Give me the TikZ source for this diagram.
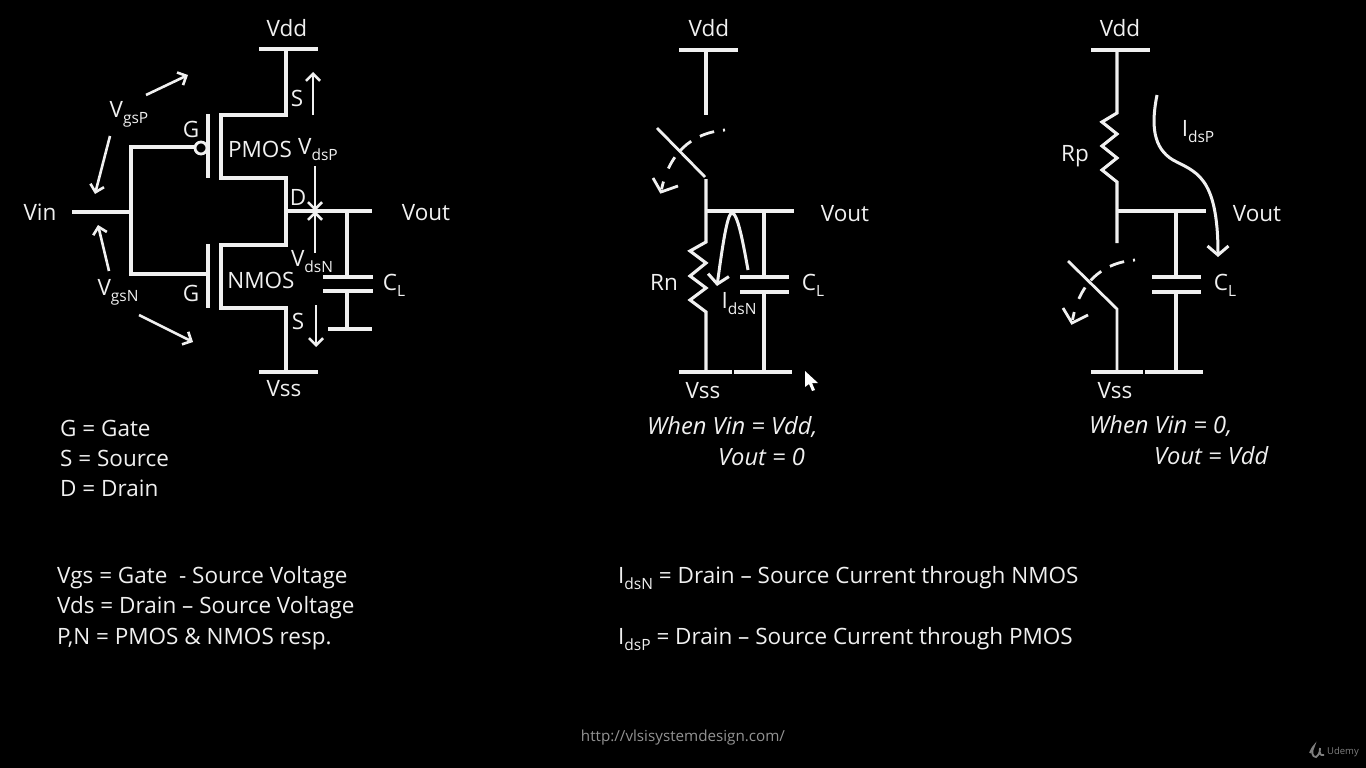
\documentclass[tikz,border=0pt]{standalone}
\usepackage{fontspec}
\setmainfont{Open Sans}
\usetikzlibrary{arrows.meta,positioning}
\definecolor{chalk}{gray}{0.94}
\newcommand{\sbs}[1]{\raisebox{-0.5ex}{\fontsize{15.5}{16}\selectfont #1}}
\begin{document}
\begin{tikzpicture}[x=1pt,y=-1pt]
	\tikzstyle{wire} = [draw=chalk, line width=3.1pt, line join=miter]
	\tikzstyle{thin wire} = [draw=chalk, line width=2.6pt, -{Straight Barb[length=7pt,width=14pt,line width=2.6pt]}]
	\tikzstyle{swing} = [draw=chalk, line width=2.8pt, dash pattern=on 2pt off 9pt on 15pt off 10pt on 14pt off 9pt on 13pt off 14pt on 8pt]
	\tikzstyle{flow} = [draw=chalk, line width=3pt, -{Straight Barb[length=9pt,width=21pt,line width=3pt]}]
	\tikzstyle{lbl} = [text=chalk, inner sep=0pt, yshift=-0.7pt, font=\fontsize{22.5}{26}\selectfont]
	\tikzstyle{note} = [text=chalk, inner sep=0pt, yshift=-1pt, anchor=base west, font=\fontsize{22.5}{26}\selectfont]
	\tikzstyle{when} = [text=chalk, inner sep=0pt, yshift=-1pt, anchor=base west, font=\itshape\fontsize{23.7}{26}\selectfont]
	\fill[black] (0,0) rectangle (1366,768);
	\useasboundingbox (0,0) rectangle (1366,768);
	
	% inverter
	\coordinate (A1l) at (259,49); \coordinate (A1r) at (318,49); \coordinate (A1m) at (286,49);
	\coordinate (Ps) at (286,115); \coordinate (Psb) at (221,115);
	\coordinate (Pdb) at (221,178); \coordinate (Pd) at (286,178);
	\coordinate (Nd) at (286,245); \coordinate (Ndb) at (221,245);
	\coordinate (Nsb) at (221,308); \coordinate (Ns) at (286,308);
	\coordinate (A2l) at (259,372); \coordinate (A2r) at (318,372); \coordinate (A2m) at (286,372);
	\coordinate (Ptop) at (208,114); \coordinate (Pbot) at (208,178);
	\coordinate (Ntop) at (208,244); \coordinate (Nbot) at (208,308);
	\node[circle, draw=chalk, line width=2.8pt, minimum size=12pt, inner sep=0pt] (bubble) at (201,148) {};
	\coordinate (Gtop) at (131,147); \coordinate (Gbot) at (131,274); \coordinate (Ngate) at (208,274);
	\coordinate (Inl) at (72,212); \coordinate (Inr) at (131,212);
	\coordinate (Outl) at (286,211); \coordinate (Outr) at (372,211); \coordinate (Cw) at (347,211);
	\coordinate (C1) at (347,277); \coordinate (C1l) at (323,277); \coordinate (C1r) at (373,277);
	\coordinate (C2) at (347,291); \coordinate (C2l) at (323,291); \coordinate (C2r) at (373,291);
	\coordinate (C3) at (347,329); \coordinate (C3l) at (328,329); \coordinate (C3r) at (372,329);
	
	\draw[wire] (A1l) -- (A1r);
	\draw[wire] (A1m) -- (Ps) -- (Psb) -- (Pdb) -- (Pd) -- (Nd) -- (Ndb) -- (Nsb) -- (Ns) -- (A2m);
	\draw[wire] (A2l) -- (A2r);
	\draw[wire] (Ptop) -- (Pbot);
	\draw[wire] (Ntop) -- (Nbot);
	\draw[wire] (bubble.west |- Gtop) -- (Gtop) -- (Gbot) -- (Ngate);
	\draw[wire] (Inl) -- (Inr);
	\draw[wire] (Outl) -- (Outr);
	\draw[wire] (Cw) -- (C1);
	\draw[wire] (C1l) -- (C1r);
	\draw[wire] (C2l) -- (C2r);
	\draw[wire] (C2) -- (C3);
	\draw[wire] (C3l) -- (C3r);
	
	\node[lbl] (vdd1) at (287,27) {Vdd};
	\node[lbl] (vss1) at (284,388) {Vss};
	\node[lbl] (g1) at (191,129) {G};
	\node[lbl] (g2) at (191,293) {G};
	\node[lbl] (pmos) at (260,149) {PMOS};
	\node[lbl] (nmos) at (261,280) {NMOS};
	\node[lbl] (s1) at (297,98) {S};
	\node[lbl] (s2) at (298,321) {S};
	\node[lbl] (d1) at (298,197) {D};
	\node[lbl] (vin) at (40,212) {Vin};
	\node[lbl] (vout1) at (426,212) {Vout};
	\node[lbl] (cl1) at (394,285) {C\sbs{L}};
	\node[lbl] (vgsp) at (129,114) {V\sbs{gsP}};
	\node[lbl] (vgsn) at (118,292) {V\sbs{gsN}};
	\node[lbl] (vdsp) at (318,149) {V\sbs{dsP}};
	\node[lbl] (vdsn) at (312,261) {V\sbs{dsN}};
	
	\coordinate (a1s) at (146,95); \coordinate (a1e) at (188,75);
	\coordinate (a2s) at (110,136); \coordinate (a2e) at (95,194);
	\coordinate (a3s) at (109,271); \coordinate (a3e) at (98,225);
	\coordinate (a4s) at (139,315); \coordinate (a4e) at (193,342);
	\coordinate (a5s) at (313,115); \coordinate (a5e) at (313,72);
	\coordinate (a6s) at (315,166); \coordinate (a6e) at (315,211);
	\coordinate (a7s) at (315,253); \coordinate (a7e) at (315,211);
	\coordinate (a8s) at (316,305); \coordinate (a8e) at (316,347);
	\draw[thin wire] (a1s) -- (a1e);
	\draw[thin wire] (a2s) -- (a2e);
	\draw[thin wire] (a3s) -- (a3e);
	\draw[thin wire] (a4s) -- (a4e);
	\draw[thin wire] (a5s) -- (a5e);
	\draw[thin wire] (a6s) -- (a6e);
	\draw[thin wire] (a7s) -- (a7e);
	\draw[thin wire] (a8s) -- (a8e);
	
	% Vin = Vdd
	\coordinate (B1l) at (679,50); \coordinate (B1r) at (738,50); \coordinate (B1m) at (706,50);
	\coordinate (Bsw) at (706,115); \coordinate (Bbt) at (657,128); \coordinate (Bbe) at (705,177);
	\coordinate (Bw) at (706,179); \coordinate (Bo) at (706,211); \coordinate (Bor) at (794,211);
	\coordinate (Rn0) at (706,242); \coordinate (Rn6) at (706,312);
	\coordinate (Bv) at (706,372); \coordinate (B2l) at (679,372); \coordinate (B2r) at (732,372);
	\coordinate (B3l) at (734,372); \coordinate (B3r) at (792,372); \coordinate (Bc3) at (764,372);
	\coordinate (Bct) at (764,211); \coordinate (Bc1) at (764,277); \coordinate (Bc2) at (764,292);
	\coordinate (Bp1l) at (740,277); \coordinate (Bp1r) at (789,277);
	\coordinate (Bp2l) at (740,292); \coordinate (Bp2r) at (789,292);
	\coordinate (Barc1) at (725,130); \coordinate (Barc2) at (661,192);
	\coordinate (Bhd1) at (653,178); \coordinate (Bhd2) at (678,186);
	\coordinate (Bi1) at (748,270); \coordinate (Bi2) at (732,213); \coordinate (Bi3) at (717,286);
	
	\draw[wire] (B1l) -- (B1r);
	\draw[wire] (B1m) -- (Bsw);
	\draw[wire, line width=2.8pt] (Bbt) -- (Bbe);
	\draw[wire] (Bw) -- (Bo) -- (Rn0) -- (690,251) -- (706,263) -- (690,276) -- (706,288) -- (690,300) -- (Rn6) -- (Bv);
	\draw[wire] (Bo) -- (Bor);
	\draw[wire] (Bct) -- (Bc1);
	\draw[wire] (Bp1l) -- (Bp1r);
	\draw[wire] (Bp2l) -- (Bp2r);
	\draw[wire] (Bc2) -- (Bc3);
	\draw[wire] (B2l) -- (B2r);
	\draw[wire] (B3l) -- (B3r);
	\draw[swing] (Barc1) .. controls (690,133) and (668,155) .. (Barc2);
	\draw[wire, line width=2.8pt] (Bhd1) -- (Barc2) -- (Bhd2);
	\draw[flow] (Bi1) .. controls (744,248) and (738,213) .. (Bi2) .. controls (727,213) and (722,250) .. (Bi3);
	
	\node[lbl] (vdd2) at (709,27) {Vdd};
	\node[lbl] (vss2) at (703,390) {Vss};
	\node[lbl] (rn) at (664,282) {Rn};
	\node[lbl] (idsn) at (739,303) {I\sbs{dsN}};
	\node[lbl] (cl2) at (813,285) {C\sbs{L}};
	\node[lbl] (vout2) at (845,213) {Vout};
	\fill[white] (805,371) -- (805,387) -- (809,384) -- (812,391) -- (815,390) -- (812,383) -- (818,383) -- cycle;
	
	% Vin = 0
	\coordinate (D1l) at (1091,50); \coordinate (D1r) at (1150,50); \coordinate (D1m) at (1117,50);
	\coordinate (Rp0) at (1117,113); \coordinate (Rp6) at (1117,182);
	\coordinate (Do) at (1117,211); \coordinate (Dor) at (1206,211); \coordinate (Dsw) at (1117,243);
	\coordinate (Dbt) at (1068,261); \coordinate (Dbe) at (1117,309); \coordinate (Dv) at (1117,372);
	\coordinate (D2l) at (1091,372); \coordinate (D2r) at (1143,372);
	\coordinate (D3l) at (1145,372); \coordinate (D3r) at (1203,372); \coordinate (Dc3) at (1176,372);
	\coordinate (Dct) at (1176,211); \coordinate (Dc1) at (1176,277); \coordinate (Dc2) at (1176,292);
	\coordinate (Dp1l) at (1152,277); \coordinate (Dp1r) at (1201,277);
	\coordinate (Dp2l) at (1152,292); \coordinate (Dp2r) at (1201,292);
	\coordinate (Darc1) at (1135,260); \coordinate (Darc2) at (1072,323);
	\coordinate (Dhd1) at (1063,308); \coordinate (Dhd2) at (1088,315);
	\coordinate (Di1) at (1157,95); \coordinate (Di2) at (1173,160); \coordinate (Di3) at (1218,257);
	
	\draw[wire] (D1l) -- (D1r);
	\draw[wire] (D1m) -- (Rp0) -- (1102,122) -- (1117,134) -- (1102,146) -- (1117,158) -- (1102,170) -- (Rp6) -- (Dsw);
	\draw[wire] (Do) -- (Dor);
	\draw[wire] (Dct) -- (Dc1);
	\draw[wire] (Dp1l) -- (Dp1r);
	\draw[wire] (Dp2l) -- (Dp2r);
	\draw[wire] (Dc2) -- (Dc3);
	\draw[wire, line width=2.8pt] (Dbt) -- (Dbe) -- (Dv);
	\draw[wire] (D2l) -- (D2r);
	\draw[wire] (D3l) -- (D3r);
	\draw[swing] (Darc1) .. controls (1100,263) and (1078,285) .. (Darc2);
	\draw[wire, line width=2.8pt] (Dhd1) -- (Darc2) -- (Dhd2);
	\draw[flow] (Di1) .. controls (1151,125) and (1153,148) .. (Di2) .. controls (1195,172) and (1218,175) .. (Di3);
	
	\node[lbl] (vdd3) at (1120,27) {Vdd};
	\node[lbl] (vss3) at (1115,390) {Vss};
	\node[lbl] (rp) at (1075,155) {Rp};
	\node[lbl] (idsp) at (1198,131) {I\sbs{dsP}};
	\node[lbl] (cl3) at (1225,285) {C\sbs{L}};
	\node[lbl] (vout3) at (1257,213) {Vout};
	
	% notes
	\node[note] (n1) at (60,435) {G = Gate};
	\node[note] (n2) at (60,465) {S = Source};
	\node[note] (n3) at (60,495) {D = Drain};
	\node[note] (n4) at (57,582) {Vgs = Gate\ \ - Source Voltage};
	\node[note] (n5) at (57,612) {Vds = Drain -- Source Voltage};
	\node[note] (n6) at (57,643) {P,N = PMOS \& NMOS resp.};
	\node[note] (n7) at (618,582) {I\sbs{dsN} = Drain -- Source Current through NMOS};
	\node[note] (n8) at (618,643) {I\sbs{dsP} = Drain -- Source Current through PMOS};
	\node[when] (w1) at (647,433) {When Vin = Vdd,};
	\node[when] (w2) at (718,464) {Vout = 0};
	\node[when] (w3) at (1089,432) {When Vin = 0,};
	\node[when] (w4) at (1154,463) {Vout = Vdd};
	\node[inner sep=0pt, text=gray!85, font=\fontsize{15.2}{18}\selectfont] (url) at (683,738) {http://vlsisystemdesign.com/};
	\node[inner sep=0pt, text=gray, font=\fontsize{9.5}{11}\selectfont] (udemy) at (1343,752) {Udemy};
	\draw[gray, line width=1.8pt] (1310,753) .. controls (1311,750) and (1313,747) .. (1314,746) .. controls (1311,752) and (1312,757) .. (1316,757) .. controls (1319,755) and (1320,752) .. (1320,748) .. controls (1319,753) and (1320,756) .. (1324,755);
\end{tikzpicture}
\end{document}
